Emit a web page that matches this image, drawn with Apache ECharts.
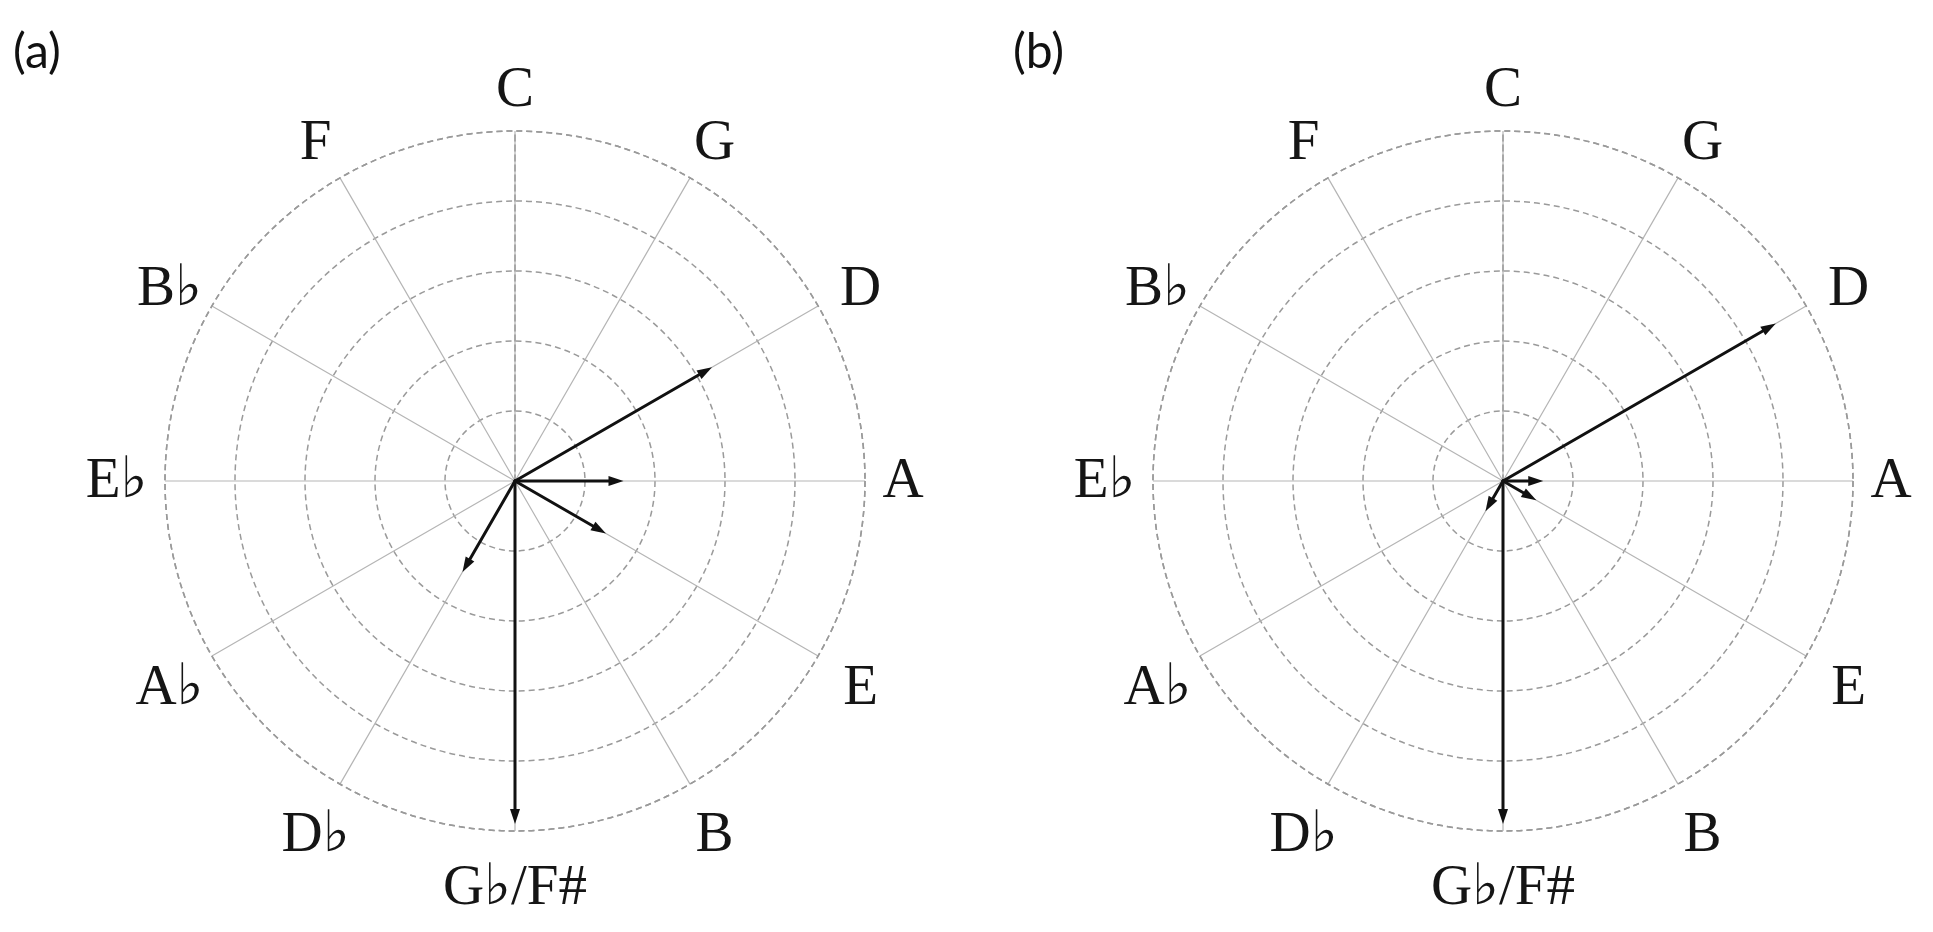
<!DOCTYPE html>
<html>
<head>
<meta charset="utf-8">
<script src="https://cdn.jsdelivr.net/npm/echarts@6/dist/echarts.min.js"></script>
<style>
html,body{margin:0;padding:0;background:#fff;}
#main{width:1933px;height:932px;}
</style>
</head>
<body>
<div id="main"></div>
<script>
// Circle of fifths, clockwise from top
var categories = ['C', 'G', 'D', 'A', 'E', 'B', 'G\u266D/F#', 'D\u266D', 'A\u266D', 'E\u266D', 'B\u266D', 'F'];
var panelTitles = ['(a)', '(b)'];
var valuesA = [0, 0, 0.65, 0.31, 0.30, 0, 0.98, 0.30, 0, 0, 0, 0];
var valuesB = [0, 0, 0.90, 0.115, 0.11, 0, 0.98, 0.10, 0, 0, 0, 0];
var ringTicks = [0, 0.2, 0.4, 0.6, 0.8, 1.0];
var labelRadius = 1.14;      // centre of labels (in radius units)
var labelEdgeRadius = 1.05;  // inner edge of the horizontal labels

var step = 360 / categories.length;

function toData(vals) {
  var out = [];
  for (var i = 0; i < vals.length; i++) {
    if (vals[i] > 0) out.push([vals[i], i * step]);
  }
  return out;
}

function labelData() {
  var out = [];
  for (var i = 0; i < categories.length; i++) out.push([labelRadius, i * step, i]);
  return out;
}

function renderArrow(params, api) {
  var r = api.value(0);
  var a = api.value(1);
  var p0 = api.coord([0, a]);
  var p1 = api.coord([r, a]);
  var dx = p1[0] - p0[0], dy = p1[1] - p0[1];
  var len = Math.sqrt(dx * dx + dy * dy) || 1;
  var ux = dx / len, uy = dy / len;
  var nx = -uy, ny = ux;
  var L = 15, W = 5;
  var bx = p1[0] - ux * L, by = p1[1] - uy * L;
  return {
    type: 'group',
    children: [
      {
        type: 'line',
        shape: { x1: p0[0], y1: p0[1], x2: bx + ux * 2, y2: by + uy * 2 },
        style: { stroke: '#111', lineWidth: 3, lineCap: 'round' }
      },
      {
        type: 'polygon',
        shape: { points: [[p1[0], p1[1]], [bx + nx * W, by + ny * W], [bx - nx * W, by - ny * W]] },
        style: { fill: '#111' }
      }
    ]
  };
}

function renderLabel(params, api) {
  var a = api.value(1);
  var p0 = api.coord([0, a]);
  var p = api.coord([api.value(0), a]);
  var dx = p[0] - p0[0], dy = p[1] - p0[1];
  var len = Math.sqrt(dx * dx + dy * dy) || 1;
  var sx = dx / len;
  var x = p[0], y = p[1] + 9, align = 'center';
  if (Math.abs(sx) > 0.99) {
    var pe = api.coord([labelEdgeRadius, a]);
    x = pe[0];
    y = pe[1] + 1;
    align = sx > 0 ? 'left' : 'right';
  }
  return {
    type: 'text',
    x: x,
    y: y,
    style: {
      text: categories[api.value(2)],
      fontFamily: 'Liberation Serif, DejaVu Serif, serif',
      fontSize: 57,
      fill: '#151515',
      align: align,
      verticalAlign: 'middle'
    }
  };
}

var centers = [[515, 481], [1503, 481]];
var polars = [], angleAxes = [], radiusAxes = [], series = [], titles = [];
var allVals = [valuesA, valuesB];
var titleLeft = [8, 1008];

for (var k = 0; k < 2; k++) {
  polars.push({ center: centers[k], radius: 350 });
  angleAxes.push({
    polarIndex: k,
    type: 'value',
    min: 0,
    max: 360,
    interval: step,
    startAngle: 90,
    clockwise: true,
    axisLine: { show: true, lineStyle: { color: '#9a9a9a', type: [6, 4], width: 1.5 } },
    axisTick: { show: false },
    axisLabel: { show: false },
    splitLine: { show: true, lineStyle: { color: '#b5b5b5', width: 1.2 } }
  });
  radiusAxes.push({
    polarIndex: k,
    type: 'value',
    min: ringTicks[0],
    max: ringTicks[ringTicks.length - 1],
    interval: ringTicks[1] - ringTicks[0],
    axisLine: { show: true, lineStyle: { color: '#9a9a9a', type: [6, 4], width: 1.5 } },
    axisTick: { show: false },
    axisLabel: { show: false },
    splitLine: { show: true, lineStyle: { color: '#9a9a9a', type: [6, 4], width: 1.5 } }
  });
  series.push({
    type: 'custom',
    coordinateSystem: 'polar',
    polarIndex: k,
    dimensions: ['r', 'angle'],
    encode: { radius: 0, angle: 1 },
    data: toData(allVals[k]),
    renderItem: renderArrow,
    silent: true,
    clip: false,
    z: 10
  });
  series.push({
    type: 'custom',
    coordinateSystem: 'polar',
    polarIndex: k,
    dimensions: ['r', 'angle', 'idx'],
    encode: { radius: 0, angle: 1 },
    data: labelData(),
    renderItem: renderLabel,
    silent: true,
    clip: false,
    z: 5
  });
  titles.push({
    text: panelTitles[k],
    left: titleLeft[k],
    top: 24,
    textStyle: { fontFamily: 'Lato, Open Sans, sans-serif', fontSize: 48, fontWeight: 'normal', color: '#111' }
  });
}

var chart = echarts.init(document.getElementById('main'));
chart.setOption({
  backgroundColor: '#fff',
  animation: false,
  title: titles,
  polar: polars,
  angleAxis: angleAxes,
  radiusAxis: radiusAxes,
  series: series
});
</script>
</body>
</html>
